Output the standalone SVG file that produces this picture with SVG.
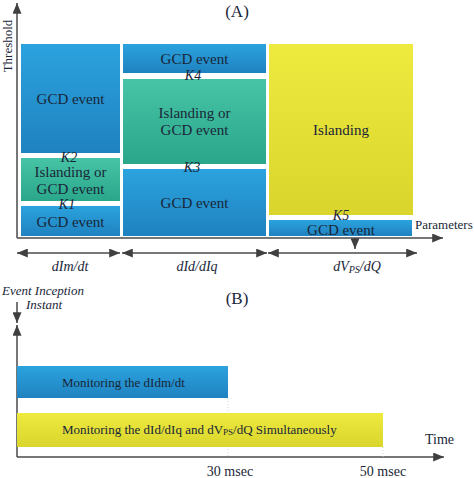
<svg xmlns="http://www.w3.org/2000/svg" width="474" height="478" viewBox="0 0 474 478">
<defs>
<linearGradient id="gBlue" x1="0" y1="0" x2="0" y2="1"><stop offset="0" stop-color="#2ba3de"/><stop offset="1" stop-color="#1f82c0"/></linearGradient>
<linearGradient id="gTeal" x1="0" y1="0" x2="0" y2="1"><stop offset="0" stop-color="#47c4a6"/><stop offset="1" stop-color="#2aa68a"/></linearGradient>
<linearGradient id="gYellow" x1="0" y1="0" x2="0" y2="1"><stop offset="0" stop-color="#eeea3e"/><stop offset="1" stop-color="#d9d52c"/></linearGradient>
<marker id="ah" viewBox="0 0 12 10" refX="12" refY="5" markerWidth="12" markerHeight="9" markerUnits="userSpaceOnUse" orient="auto-start-reverse"><path d="M0,0 L12,5 L0,10 z" fill="#404040"/></marker>
</defs>
<style>
text{font-family:"Liberation Serif","Times New Roman",serif;fill:#1a2638}
.b{font-size:15px;text-anchor:middle}
.k{font-size:14px;font-style:italic;text-anchor:middle}
.ax{stroke:#4a4a4a;stroke-width:1.5;fill:none}
.lbl{font-size:14px;font-style:italic;text-anchor:middle}
</style>
<text x="237" y="17" font-size="17" text-anchor="middle">(A)</text>
<text transform="translate(12,46) rotate(-90)" font-size="13" text-anchor="middle">Threshold</text>

<g id="nodes-A">
<g id="left-gcd-top"><rect x="21" y="44" width="99" height="109" fill="url(#gBlue)"/><text class="b" x="70.5" y="104">GCD event</text></g>
<g id="left-island"><rect x="21" y="158" width="99" height="43" fill="url(#gTeal)"/><text class="b" x="70.5" y="177">Islanding or</text><text class="b" x="70.5" y="194">GCD event</text></g>
<g id="left-gcd-bottom"><rect x="21" y="206" width="99" height="30" fill="url(#gBlue)"/><text class="b" x="70.5" y="227">GCD event</text></g>
<g id="mid-gcd-top"><rect x="123" y="44" width="143" height="29" fill="url(#gBlue)"/><text class="b" x="194.5" y="64">GCD event</text></g>
<g id="mid-island"><rect x="123" y="79" width="143" height="85" fill="url(#gTeal)"/><text class="b" x="194.5" y="118">Islanding or</text><text class="b" x="194.5" y="135">GCD event</text></g>
<g id="mid-gcd-bottom"><rect x="123" y="169" width="143" height="67" fill="url(#gBlue)"/><text class="b" x="194.5" y="208">GCD event</text></g>
<g id="right-island"><rect x="269" y="44" width="144" height="171" fill="url(#gYellow)"/><text class="b" x="341" y="135">Islanding</text></g>
<g id="right-gcd"><rect x="269" y="220" width="143" height="16" fill="url(#gBlue)"/><text class="b" x="341" y="235">GCD event</text></g>
<g id="k-labels">
<text class="k" x="69" y="162">K2</text>
<text class="k" x="67" y="209">K1</text>
<text class="k" x="193" y="80">K4</text>
<text class="k" x="192" y="172">K3</text>
<text class="k" x="341" y="220">K5</text>
</g>
</g>

<g id="connectors">
<line class="ax" x1="17" y1="238" x2="17" y2="3" marker-end="url(#ah)"/>
<line class="ax" x1="17" y1="238" x2="443" y2="238" marker-end="url(#ah)"/>
<line class="ax" x1="355" y1="238" x2="355" y2="249" marker-end="url(#ah)"/>
<line class="ax" x1="17" y1="253" x2="120" y2="253" marker-start="url(#ah)" marker-end="url(#ah)"/>
<line class="ax" x1="122" y1="253" x2="267" y2="253" marker-start="url(#ah)" marker-end="url(#ah)"/>
<line class="ax" x1="268" y1="253" x2="417" y2="253" marker-start="url(#ah)" marker-end="url(#ah)"/>
<line class="ax" x1="17" y1="302" x2="17" y2="323" marker-end="url(#ah)"/>
<line class="ax" x1="17" y1="457" x2="17" y2="325" marker-end="url(#ah)"/>
<line class="ax" x1="17" y1="457" x2="444" y2="457" marker-end="url(#ah)"/>
<line x1="228" y1="398" x2="228" y2="457" stroke="#c8c8c8" stroke-width="0.8" stroke-dasharray="1,2"/>
<line x1="383" y1="447" x2="383" y2="457" stroke="#c8c8c8" stroke-width="0.8" stroke-dasharray="1,2"/>
</g>

<text x="415" y="229" font-size="13">Parameters</text>
<text class="lbl" x="70" y="271">dIm/dt</text>
<text class="lbl" x="197" y="271">dId/dIq</text>
<text class="lbl" x="357" y="271">dV<tspan font-size="10" dy="2">PS</tspan><tspan dy="-2">/dQ</tspan></text>

<text x="237" y="304" font-size="17" text-anchor="middle">(B)</text>
<text x="2" y="295" font-size="13" font-style="italic">Event Inception</text>
<text x="26" y="309" font-size="13" font-style="italic">Instant</text>

<g id="nodes-B">
<g id="bar-dim"><rect x="17" y="366" width="211" height="32" fill="url(#gBlue)"/><text x="62" y="387" font-size="13">Monitoring the dIdm/dt</text></g>
<g id="bar-did"><rect x="17" y="413" width="366" height="34" fill="url(#gYellow)"/><text x="62" y="434" font-size="13">Monitoring the dId/dIq and dV<tspan font-size="9" dy="1">PS</tspan><tspan dy="-1">/dQ Simultaneously</tspan></text></g>
</g>
<text x="425" y="444" font-size="14">Time</text>
<text x="230" y="476" font-size="14" text-anchor="middle">30 msec</text>
<text x="383" y="476" font-size="14" text-anchor="middle">50 msec</text>
</svg>
